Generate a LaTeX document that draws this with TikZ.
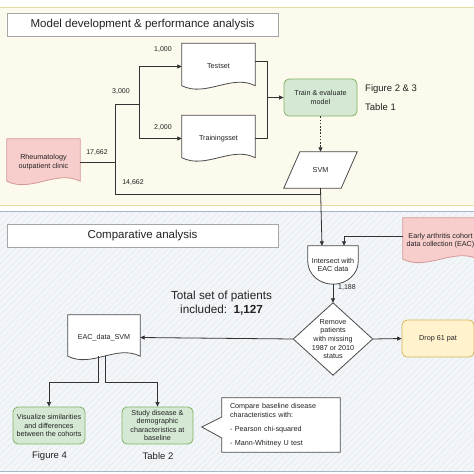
\documentclass[tikz,border=0pt]{standalone}
\usepackage{fontspec}
\setmainfont{Liberation Sans}
\usetikzlibrary{arrows.meta,backgrounds,patterns.meta}

\definecolor{linegrey}{HTML}{333333}
\definecolor{docline}{HTML}{4A4A4A}
\definecolor{txt}{HTML}{222222}
\definecolor{topfill}{HTML}{FCFAEC}
\definecolor{topline}{HTML}{E8DCA4}
\definecolor{botfill}{HTML}{F3F6F9}
\definecolor{botline}{HTML}{A9B6C4}
\definecolor{hatch}{HTML}{E3E8EE}
\definecolor{greenfill}{HTML}{D5E8D4}
\definecolor{greenline}{HTML}{82B366}
\definecolor{pinkfill}{HTML}{F8CECC}
\definecolor{pinkline}{HTML}{B85450}
\definecolor{yellowfill}{HTML}{FFF2CC}
\definecolor{yellowline}{HTML}{D6B656}

\tikzset{
  conn/.style={draw=linegrey, line width=0.8pt},
  arr/.style={conn, -{Triangle[length=4.5pt,width=4pt]}},
  boxtext/.style={font=\fontsize{7.2}{8.6}\selectfont, align=center, text=txt, inner sep=1pt},
  lbl/.style={font=\fontsize{7}{8}\selectfont, text=txt, inner sep=0pt},
  bigtext/.style={font=\fontsize{9.5}{11}\selectfont, text=txt, inner sep=0pt},
  titlebox/.style={draw=gray!70, fill=white, line width=0.6pt, minimum width=271pt,
    minimum height=23pt, font=\fontsize{11.5}{13}\selectfont, text=txt},
  docnode/.style={boxtext, minimum width=73pt, minimum height=46pt},
  greenbox/.style={boxtext, rounded corners=5pt, draw=greenline, fill=greenfill,
    line width=0.8pt, minimum width=72pt, minimum height=37pt},
  docwhite/.style={fill=white, draw=docline, line width=0.8pt},
  docpink/.style={fill=pinkfill, draw=pinkline!60, line width=0.8pt},
}

% document outline with a wavy bottom, drawn round a named node
\newcommand\docshape[2]{\filldraw[#2] (#1.north west) -- (#1.north east)
  -- ([yshift=4pt]#1.south east) .. controls +(-24,-12) and +(24,12) .. ([yshift=4pt]#1.south west) -- cycle;}

\begin{document}
\begin{tikzpicture}[x=1pt,y=-1pt]
\useasboundingbox (0,0) rectangle (474,474);
\begin{scope}[on background layer]
  \fill[topfill] (-2,7) rectangle (476,205);
  \draw[topline, line width=1pt] (-2,7) -- (476,7) (-2,205) -- (476,205);
  \fill[botfill] (-2,211) rectangle (476,471);
  \fill[pattern={Lines[angle=45,distance=4.5pt,line width=0.5pt]}, pattern color=hatch] (-2,211) rectangle (476,471);
  \draw[botline, line width=1pt] (-2,211) -- (476,211) (-2,471) -- (476,471);
\end{scope}

% model development
\node[titlebox] (title1) at (142.5,24.5) {Model development \& performance analysis};
\node[docnode] (testset) at (218.5,66.5) {Testset};
\node[docnode] (trainset) at (218.5,138.5) {Trainingsset};
\node[docnode] (clinic) at (43.5,162) {Rheumatology\\outpatient clinic};
\node[greenbox, minimum width=73pt] (model) at (320.5,97.5) {Train \& evaluate\\model};
\node[boxtext, minimum width=73pt, minimum height=36pt] (svm) at (320.5,170) {SVM};
\node[bigtext, anchor=west] (fig23) at (365,89) {Figure 2 \& 3};
\node[bigtext, anchor=west] (tab1) at (365,107) {Table 1};
\node[lbl] (n1000) at (163,50) {1,000};
\node[lbl] (n3000) at (121,92) {3,000};
\node[lbl] (n2000) at (163,128) {2,000};
\node[lbl] (n17662) at (97,153) {17,662};
\node[lbl] (n14662) at (133,183) {14,662};

% comparative analysis
\node[titlebox] (title2) at (142.5,235.5) {Comparative analysis};
\node[docnode, minimum width=75pt, minimum height=45pt] (eac) at (440.5,240.5) {Early arthritis cohort\\data collection (EAC)};
\node[boxtext, minimum width=50pt, minimum height=38pt] (intersect) at (333,265) {Intersect with\\EAC data};
\node[lbl] (n1188) at (347,288) {1,188};
\node[boxtext, minimum width=79pt, minimum height=72pt] (remove) at (333,339) {Remove\\patients\\with missing\\1987 or 2010\\status};
\node[boxtext, rounded corners=5pt, draw=yellowline, fill=yellowfill, line width=0.8pt,
  minimum width=72pt, minimum height=37pt] (drop) at (438,338.5) {Drop 61 pat};
\node[font=\fontsize{11.7}{14}\selectfont, text=txt, align=center, inner sep=0pt] (total) at (221.5,303)
  {Total set of patients\\included:\ \ \textbf{1,127}};
\node[docnode, minimum width=72pt, minimum height=45pt] (eacsvm) at (104,337.5) {EAC\_data\_SVM};
\node[greenbox, font=\fontsize{7.2}{8.4}\selectfont] (visual) at (49,425.5) {Visualize similarities\\and differences\\between the cohorts};
\node[greenbox, minimum width=71pt, font=\fontsize{7.2}{8.3}\selectfont] (study) at (157.5,425.5) {Study disease \&\\demographic\\characteristics at\\baseline};
\node[boxtext, align=left, text width=102pt, inner xsep=8pt, minimum height=54pt] (callout) at (281,425)
  {Compare baseline disease\\characteristics with:\\[5.5pt]- Pearson chi-squared\\[5.5pt]- Mann-Whitney U test};
\node[bigtext] (fig4) at (49.5,456) {Figure 4};
\node[bigtext] (tab2) at (158,456) {Table 2};

% outlines behind the texts
\begin{scope}[on background layer]
  \docshape{testset}{docwhite}
  \docshape{trainset}{docwhite}
  \docshape{eacsvm}{docwhite}
  \docshape{clinic}{docpink}
  \docshape{eac}{docpink}
  \filldraw[docwhite] ([xshift=16pt]svm.north west) -- (svm.north east) -- ([xshift=-16pt]svm.south east) -- (svm.south west) -- cycle;
  \filldraw[docwhite] (intersect.north west) -- (intersect.north east) -- ([yshift=-16pt]intersect.north east)
    .. controls +(0,12) and +(14,0) .. (intersect.south) .. controls +(-14,0) and +(0,12) .. ([yshift=-16pt]intersect.north west) -- cycle;
  \filldraw[docwhite] (remove.north) -- (remove.east) -- (remove.south) -- (remove.west) -- cycle;
  \filldraw[docwhite] (callout.north west) -- (callout.north east) -- (callout.south east) -- (callout.south west)
    -- ([yshift=-13pt]callout.west) -- ([xshift=-20pt,yshift=-2pt]callout.west) -- ([yshift=8pt]callout.west) -- cycle;
\end{scope}

% connectors
\coordinate (j1) at (115,104);
\coordinate (j2) at (115,194);
\coordinate (j3) at (139,104);
\coordinate (j4) at (267,97.5);
\draw[conn] (clinic.east) -- (clinic.east -| j1);
\draw[conn] (j2) -- (j1) -- (j3);
\draw[arr] (j3) |- (testset.west);
\draw[arr] (j3) |- (trainset.west);
\draw[conn] ([yshift=5.5pt]testset.east) -| (j4);
\draw[conn] (trainset.east) -| (j4);
\draw[arr] (j4) -- (model.west);
\draw[arr, dash pattern=on 1.6pt off 1.6pt] (model.south) -- (svm.north);
\draw[conn] (j2) -- (j2 -| svm.south);
\draw[arr] (svm.south) -- ([xshift=-11pt]intersect.north);
\draw[arr] ([yshift=4.5pt]eac.west) -| ([xshift=11pt]intersect.north);
\draw[arr] (intersect.south) -- (remove.north);
\draw[arr] (remove.west) -- (eacsvm.east);
\draw[arr] (remove.east) -- (drop.west);
\draw[arr] ([xshift=-6pt,yshift=4pt]eacsvm.south) |- ([yshift=24pt]visual.north) -- (visual.north);
\draw[arr] ([xshift=1pt,yshift=4pt]eacsvm.south) |- ([yshift=24pt]study.north) -- (study.north);
\end{tikzpicture}
\end{document}
